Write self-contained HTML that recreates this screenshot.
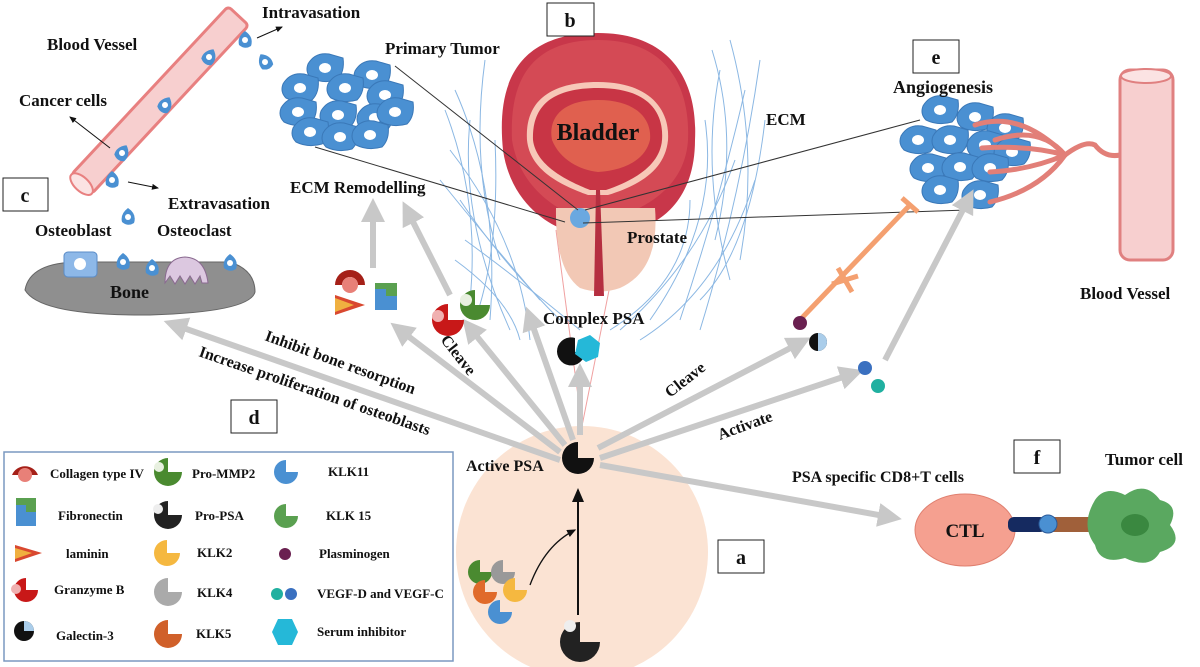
<!DOCTYPE html>
<html><head><meta charset="utf-8"><style>
html,body{margin:0;padding:0;background:#fff}
svg{display:block}
text{font-family:"Liberation Serif",serif;font-weight:bold;fill:#111}
</style></head><body>
<svg width="1200" height="667" viewBox="0 0 1200 667" xmlns="http://www.w3.org/2000/svg">
<defs>
<marker id="ga" markerWidth="4" markerHeight="4" refX="2" refY="2" orient="auto" markerUnits="strokeWidth"><path d="M0,0 L4,2 L0,4 Z" fill="#c8c8c8"/></marker>
<marker id="ka" markerWidth="8" markerHeight="8" refX="6" refY="3" orient="auto"><path d="M0,0 L7,3 L0,6 Z" fill="#111"/></marker>
<g id="cell"><path d="M-17,-4 Q-10,-16 4,-14 L18,-10 Q20,4 12,12 Q-2,16 -14,10 Q-20,4 -17,-4Z" fill="#4a90d2" stroke="#3a78b8" stroke-width="1"/><ellipse cx="0" cy="0" rx="6" ry="5" fill="#fff"/></g>
<g id="drop"><path d="M0,-9 Q9,-3 6,6 Q0,10 -6,5 Q-8,-3 0,-9Z" fill="#4a90d2"/><circle r="3" fill="#fff"/></g>
</defs>

<circle cx="582" cy="552" r="126" fill="#fbe3d3"/>
<line x1="582" y1="426" x2="556" y2="230" stroke="#f0a0a0" stroke-width="1"/>
<line x1="582" y1="426" x2="621" y2="230" stroke="#f0a0a0" stroke-width="1"/>

<g stroke="#7fb0e0" stroke-width="1" fill="none" opacity="0.9">
<path d="M445,110 Q480,200 470,300"/><path d="M455,90 Q500,190 490,320"/><path d="M470,120 Q460,220 510,330"/><path d="M450,150 Q520,240 530,340"/><path d="M485,60 Q470,170 500,260"/><path d="M460,200 Q500,260 560,320"/><path d="M440,180 Q480,230 540,300"/><path d="M495,140 Q500,250 475,320"/><path d="M465,240 Q520,280 580,330"/><path d="M455,260 Q510,300 520,340"/>
<path d="M730,40 Q760,150 740,260"/><path d="M720,70 Q700,170 730,280"/><path d="M745,90 Q720,200 680,320"/><path d="M760,60 Q740,200 700,330"/><path d="M705,120 Q720,220 650,320"/><path d="M735,160 Q700,260 620,330"/><path d="M755,180 Q720,290 640,340"/><path d="M712,50 Q740,140 715,240"/><path d="M690,200 Q690,280 610,330"/><path d="M765,120 Q750,250 700,300"/>
</g>

<path d="M598,33 C505,33 498,100 503,150 C510,200 545,222 560,228 L640,228 C660,222 695,200 695,140 C698,80 670,33 598,33Z" fill="#c8374a"/>
<path d="M598,40 C520,40 510,95 512,140 C520,190 560,212 585,220 L605,220 C640,212 685,190 688,140 C690,90 670,40 598,40Z" fill="#d44a55"/>
<path d="M598,82 C540,82 525,110 527,140 C530,170 560,185 588,195 L608,195 C640,185 665,170 668,140 C670,110 650,82 598,82Z" fill="#f7c8b8"/>
<path d="M598,88 C545,88 532,112 533,140 C536,165 565,180 590,190 L606,190 C635,180 660,165 662,140 C664,112 648,88 598,88Z" fill="#c83545"/>
<path d="M598,100 C560,100 548,120 552,140 C560,160 580,170 598,172 C625,170 645,160 650,140 C652,118 635,100 598,100Z" fill="#e0604f"/>
<text x="598" y="140" font-size="24" text-anchor="middle">Bladder</text>
<path d="M556,208 L655,208 Q660,270 620,288 Q600,295 580,288 Q555,270 556,208Z" fill="#f2c8b5"/>
<path d="M596,190 L600,190 L604,296 L594,296Z" fill="#b52f40"/>
<circle cx="580" cy="218" r="10" fill="#6aa8e0"/>
<text x="627" y="243" font-size="17">Prostate</text>

<g stroke="#333" stroke-width="1" fill="none">
<line x1="395" y1="66" x2="578" y2="210"/><line x1="315" y1="147" x2="565" y2="222"/>
<line x1="585" y1="210" x2="920" y2="120"/><line x1="583" y1="223" x2="967" y2="210"/>
</g>

<g transform="translate(160,100) rotate(-47)">
<rect x="-115" y="-14" width="230" height="28" rx="4" fill="#f7cfcf" stroke="#e88080" stroke-width="3"/>
<ellipse cx="-115" cy="0" rx="7" ry="14" fill="#fbe3e3" stroke="#e88080" stroke-width="2"/>
</g>
<use href="#drop" transform="translate(209,57) rotate(30)"/>
<use href="#drop" transform="translate(165,105) rotate(30)"/>
<use href="#drop" transform="translate(122,153) rotate(30)"/>
<use href="#drop" transform="translate(112,180)"/>
<use href="#drop" transform="translate(245,40)"/>
<use href="#drop" transform="translate(265,62) rotate(-30)"/>
<use href="#drop" transform="translate(128,217)"/>
<g stroke="#111" stroke-width="1"><line x1="257" y1="38" x2="282" y2="27" marker-end="url(#ka)"/><line x1="110" y1="148" x2="70" y2="117" marker-end="url(#ka)"/><line x1="128" y1="182" x2="158" y2="188" marker-end="url(#ka)"/></g>
<text x="262" y="18" font-size="17">Intravasation</text>
<text x="47" y="50" font-size="17">Blood Vessel</text>
<text x="19" y="106" font-size="17">Cancer cells</text>
<text x="168" y="209" font-size="17">Extravasation</text>
<text x="35" y="236" font-size="17">Osteoblast</text>
<text x="157" y="236" font-size="17">Osteoclast</text>
<rect x="3" y="178" width="45" height="33" fill="#fff" stroke="#222"/><text x="25" y="202" font-size="20" font-weight="normal" text-anchor="middle">c</text>

<path d="M25,290 Q30,262 80,262 L230,262 Q255,270 255,292 Q250,312 150,315 Q40,316 25,290Z" fill="#8f8f8f" stroke="#666"/>
<rect x="64" y="252" width="33" height="25" rx="4" fill="#8db8e8" stroke="#5a8cc8"/><circle cx="80" cy="264" r="6" fill="#fff"/>
<use href="#drop" transform="translate(123,262)"/><use href="#drop" transform="translate(152,268)"/><use href="#drop" transform="translate(230,263)"/>
<path d="M165,283 Q165,258 185,257 Q205,258 208,283 L202,283 L200,276 L195,284 L190,276 L185,284 L180,276 L175,284 L170,276Z" fill="#dcc8e0" stroke="#8a6a90"/>
<text x="110" y="298" font-size="18">Bone</text>

<g>
<use href="#cell" transform="translate(325,68)"/><use href="#cell" transform="translate(372,75)"/>
<use href="#cell" transform="translate(300,88)"/><use href="#cell" transform="translate(345,88)"/><use href="#cell" transform="translate(385,95)"/>
<use href="#cell" transform="translate(298,112)"/><use href="#cell" transform="translate(338,115)"/><use href="#cell" transform="translate(375,118)"/><use href="#cell" transform="translate(395,112)"/>
<use href="#cell" transform="translate(310,132)"/><use href="#cell" transform="translate(340,137)"/><use href="#cell" transform="translate(370,135)"/>
</g>
<text x="385" y="54" font-size="17">Primary Tumor</text>
<text x="290" y="193" font-size="17">ECM Remodelling</text>
<text x="766" y="125" font-size="17">ECM</text>
<rect x="547" y="3" width="47" height="33" fill="#fff" stroke="#222"/><text x="570" y="27" font-size="20" font-weight="normal" text-anchor="middle">b</text>

<g>
<use href="#cell" transform="translate(940,110)"/><use href="#cell" transform="translate(975,117)"/><use href="#cell" transform="translate(1005,128)"/>
<use href="#cell" transform="translate(918,140)"/><use href="#cell" transform="translate(950,140)"/><use href="#cell" transform="translate(985,145)"/><use href="#cell" transform="translate(1012,152)"/>
<use href="#cell" transform="translate(928,168)"/><use href="#cell" transform="translate(960,167)"/><use href="#cell" transform="translate(990,168)"/>
<use href="#cell" transform="translate(940,190)"/><use href="#cell" transform="translate(980,195)"/>
</g>
<g stroke="#e27f78" stroke-width="5" fill="none" stroke-linecap="round">
<path d="M975,125 Q1020,110 1065,155"/><path d="M995,140 Q1040,125 1065,155"/><path d="M982,148 Q1030,145 1065,155"/><path d="M990,172 Q1030,170 1065,155"/><path d="M990,202 Q1040,190 1065,155"/><path d="M1065,155 Q1085,140 1095,145 Q1105,158 1120,155"/>
</g>
<rect x="1120" y="70" width="53" height="190" rx="10" fill="#f7cfcf" stroke="#e08080" stroke-width="3"/>
<ellipse cx="1146" cy="76" rx="25" ry="7" fill="#fbe3e3" stroke="#e08080" stroke-width="2"/>
<text x="1080" y="299" font-size="17">Blood Vessel</text>
<text x="893" y="93" font-size="18">Angiogenesis</text>
<rect x="913" y="40" width="46" height="33" fill="#fff" stroke="#222"/><text x="936" y="64" font-size="20" font-weight="normal" text-anchor="middle">e</text>

<g stroke="#c8c8c8" stroke-width="6" fill="none" marker-end="url(#ga)">
<line x1="560" y1="460" x2="175" y2="325"/>
<line x1="560" y1="452" x2="400" y2="330"/>
<line x1="565" y1="445" x2="470" y2="328"/>
<line x1="573" y1="440" x2="530" y2="318"/>
<line x1="580" y1="435" x2="580" y2="375"/>
<line x1="598" y1="448" x2="800" y2="343"/>
<line x1="600" y1="458" x2="852" y2="374"/>
<line x1="600" y1="465" x2="890" y2="517"/>
<line x1="373" y1="268" x2="373" y2="210"/>
<line x1="450" y1="295" x2="408" y2="212"/>
<line x1="885" y1="360" x2="968" y2="200"/>
</g>
<g stroke="#f4a070" stroke-width="5"><line x1="798" y1="322" x2="910" y2="205"/><line x1="902" y1="198" x2="918" y2="212"/><line x1="838" y1="268" x2="852" y2="292"/><line x1="832" y1="284" x2="858" y2="276"/></g>

<path d="M335,285 A15,15 0 0 1 365,285 L358,285 A8,8 0 0 0 342,285Z" fill="#a52018"/><circle cx="350" cy="285" r="8" fill="#e88078"/>
<path d="M335,295 L365,305 L335,315Z" fill="#d94830"/><path d="M335,298 L354,305 L335,312Z" fill="#f0b040"/>
<rect x="375" y="283" width="22" height="27" fill="#4a90d2"/><rect x="386" y="283" width="11" height="13" fill="#5aa050"/><rect x="375" y="283" width="11" height="6" fill="#5aa050"/>
<path d="M448,320 L464,320 A16,16 0 1 1 448,304Z" fill="#c81818"/><circle cx="438" cy="316" r="6" fill="#f0b0b0"/>
<path d="M475,305 L490,305 A15,15 0 1 1 475,290Z" fill="#4a8a30"/><circle cx="466" cy="300" r="6" fill="#e8f0e0"/>
<path d="M575,352 L585,352 A14,14 0 1 1 575,338Z" fill="#111"/>
<path d="M578,340 L590,335 L600,343 L598,357 L586,362 L575,354Z" fill="#25b8d8"/>
<text x="543" y="324" font-size="17">Complex PSA</text>
<circle cx="800" cy="323" r="7" fill="#6a2050"/>
<circle cx="818" cy="342" r="9" fill="#111"/><path d="M818,333 A9,9 0 0 1 818,351Z" fill="#aacdea"/>
<circle cx="865" cy="368" r="7" fill="#3a70c0"/><circle cx="878" cy="386" r="7" fill="#20b0a0"/>

<text font-size="16" transform="translate(264,340) rotate(20)">Inhibit bone resorption</text>
<text font-size="16" transform="translate(198,356) rotate(19)">Increase proliferation of osteoblasts</text>
<text font-size="16" transform="translate(440,340) rotate(52)">Cleave</text>
<text font-size="16" transform="translate(670,398) rotate(-38)">Cleave</text>
<text font-size="16" transform="translate(720,440) rotate(-20)">Activate</text>
<rect x="231" y="400" width="46" height="33" fill="#fff" stroke="#222"/><text x="254" y="424" font-size="20" font-weight="normal" text-anchor="middle">d</text>

<path d="M578,458 L594,458 A16,16 0 1 1 578,442Z" fill="#111"/>
<text x="466" y="471" font-size="16">Active PSA</text>
<line x1="578" y1="615" x2="578" y2="490" stroke="#111" stroke-width="2" marker-end="url(#ka)"/>
<path d="M530,585 Q545,545 575,530" stroke="#111" stroke-width="1.3" fill="none" marker-end="url(#ka)"/>
<path d="M580,642 L600,642 A20,20 0 1 1 580,622Z" fill="#222"/><circle cx="570" cy="626" r="6" fill="#eee"/>
<path d="M480,572 L492,572 A12,12 0 1 1 480,560Z" fill="#4a8a30"/>
<path d="M503,572 L515,572 A12,12 0 1 1 503,560Z" fill="#999"/>
<path d="M485,592 L497,592 A12,12 0 1 1 485,580Z" fill="#e06a2a"/>
<path d="M515,590 L527,590 A12,12 0 1 1 515,578Z" fill="#f5b840"/>
<path d="M500,612 L512,612 A12,12 0 1 1 500,600Z" fill="#4a90d2"/>
<rect x="718" y="540" width="46" height="33" fill="#fff" stroke="#222"/><text x="741" y="564" font-size="20" font-weight="normal" text-anchor="middle">a</text>

<text x="792" y="482" font-size="16">PSA specific CD8+T cells</text>
<ellipse cx="965" cy="530" rx="50" ry="36" fill="#f5a090" stroke="#e08070"/>
<text x="965" y="537" font-size="19" font-weight="normal" text-anchor="middle">CTL</text>
<rect x="1008" y="517" width="38" height="15" rx="6" fill="#152a60"/>
<rect x="1050" y="517" width="42" height="15" fill="#a0603a"/>
<circle cx="1048" cy="524" r="9" fill="#4a90d2" stroke="#2a5a9a"/>
<path d="M1095,500 Q1105,485 1125,495 Q1145,480 1160,500 Q1180,505 1170,525 Q1185,545 1160,552 Q1150,570 1125,558 Q1100,565 1095,545 Q1080,525 1095,500Z" fill="#5aa860"/>
<ellipse cx="1135" cy="525" rx="14" ry="11" fill="#3a8840"/>
<text x="1105" y="465" font-size="17">Tumor cell</text>
<rect x="1014" y="440" width="46" height="33" fill="#fff" stroke="#222"/><text x="1037" y="464" font-size="20" font-weight="normal" text-anchor="middle">f</text>

<rect x="4" y="452" width="449" height="209" fill="#fff" stroke="#7a98c0" stroke-width="1.5"/>
<g font-size="13">
<path d="M12,475 A14,14 0 0 1 38,475 L32,475 A8,8 0 0 0 18,475Z" fill="#a52018"/><circle cx="25" cy="475" r="7" fill="#e88078"/>
<text x="50" y="478">Collagen type IV</text>
<rect x="16" y="498" width="20" height="28" fill="#4a90d2"/><rect x="26" y="498" width="10" height="14" fill="#5aa050"/><rect x="16" y="498" width="10" height="7" fill="#5aa050"/>
<text x="58" y="520">Fibronectin</text>
<path d="M15,545 L42,553 L15,562Z" fill="#d94830"/><path d="M15,548 L32,553 L15,559Z" fill="#f0b040"/>
<text x="66" y="558">laminin</text>
<path d="M26,590 L38,590 A12,12 0 1 1 26,578Z" fill="#c81818"/><circle cx="16" cy="589" r="5" fill="#f0b0b0"/>
<text x="54" y="594">Granzyme  B</text>
<circle cx="24" cy="631" r="10" fill="#111"/><path d="M24,621 A10,10 0 0 1 34,631 L24,631 Z" fill="#aacdea"/>
<text x="56" y="640">Galectin-3</text>
<path d="M168,472 L182,472 A14,14 0 1 1 168,458Z" fill="#4a8a30"/><circle cx="159" cy="467" r="5" fill="#e8f0e0"/>
<text x="192" y="478">Pro-MMP2</text>
<path d="M168,515 L182,515 A14,14 0 1 1 168,501Z" fill="#222"/><circle cx="158" cy="509" r="5" fill="#eee"/>
<text x="195" y="520">Pro-PSA</text>
<path d="M167,553 L180,553 A13,13 0 1 1 167,540Z" fill="#f5b840"/>
<text x="197" y="557">KLK2</text>
<path d="M168,592 L182,592 A14,14 0 1 1 168,578Z" fill="#aaa"/>
<text x="197" y="597">KLK4</text>
<path d="M168,634 L182,634 A14,14 0 1 1 168,620Z" fill="#d0602a"/>
<text x="196" y="638">KLK5</text>
<path d="M286,472 L298,472 A12,12 0 1 1 286,460Z" fill="#4a90d2"/>
<text x="328" y="476">KLK11</text>
<path d="M286,516 L298,516 A12,12 0 1 1 286,504Z" fill="#5aa050"/>
<text x="326" y="520">KLK 15</text>
<circle cx="285" cy="554" r="6" fill="#6a2050"/>
<text x="319" y="558">Plasminogen</text>
<circle cx="277" cy="594" r="6" fill="#20b0a0"/><circle cx="291" cy="594" r="6" fill="#3a70c0"/>
<text x="317" y="598">VEGF-D and VEGF-C</text>
<path d="M278,619 L292,619 L298,632 L292,645 L278,645 L272,632Z" fill="#25b8d8"/>
<text x="317" y="636">Serum inhibitor</text>
</g>
</svg>
</body></html>
